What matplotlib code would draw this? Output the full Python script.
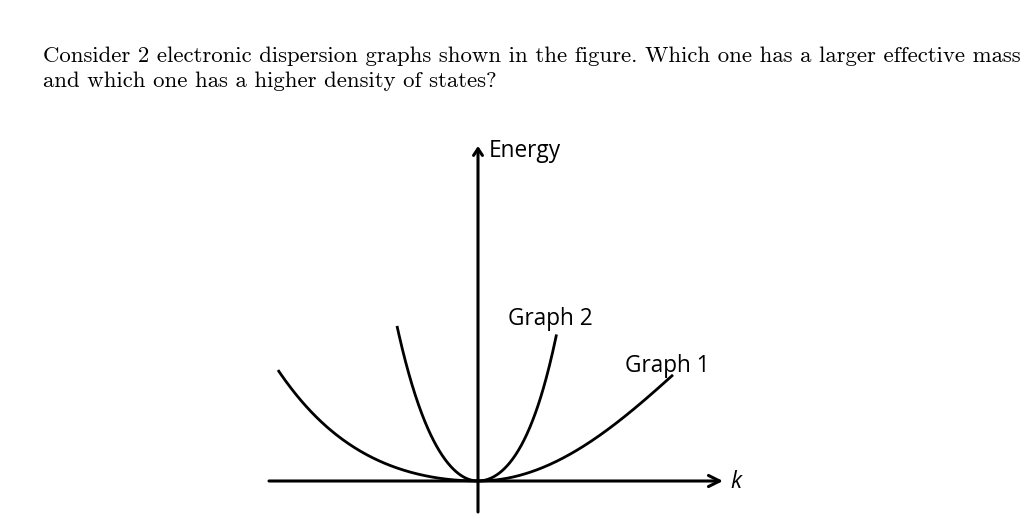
import numpy as np
import matplotlib.pyplot as plt

# question text
question = ["Consider 2 electronic dispersion graphs shown in the figure. Which one has a larger effective mass",
            "and which one has a higher density of states?"]

# bands drawn as E = a*k^2 + b*k^4, coefficients read per branch (left, right)
# and the k value where each branch ends (arbitrary units, 1 unit = 100 px)
names = ["Graph 1", "Graph 2"]
coef_a = {"Graph 1": (0.183, 0.327), "Graph 2": (1.915, 1.70)}
coef_b = {"Graph 1": (0.0236, -0.0126), "Graph 2": (0.683, 1.10)}
k_end = {"Graph 1": (-2.0, 1.95), "Graph 2": (-0.81, 0.785)}
label_pos = {"Graph 1": (1.47, 1.09), "Graph 2": (0.30, 1.56)}

# axis extents
k_axis = (-2.09, 2.45)
e_axis = (-0.31, 3.35)

fig = plt.figure(figsize=(10.24, 5.32), dpi=100)
ax = fig.add_axes([0, 0, 1, 1])
ax.set_xlim(-4.78, 5.46)
ax.set_ylim(-0.51, 4.81)
ax.axis("off")

# axes with arrows
ax.annotate("", xy=(k_axis[1], 0), xytext=(k_axis[0], 0),
            arrowprops=dict(arrowstyle="->,head_length=0.4,head_width=0.2", lw=2.2,
                            color="black", mutation_scale=20, shrinkA=0, shrinkB=0))
ax.annotate("", xy=(0, e_axis[1]), xytext=(0, e_axis[0]),
            arrowprops=dict(arrowstyle="->,head_length=0.3,head_width=0.2", lw=2.2,
                            color="black", mutation_scale=16, shrinkA=0, shrinkB=0))

lab_font = ["Open Sans", "DejaVu Sans"]
ax.text(0.11, 3.24, "Energy", fontsize=16.3, family=lab_font, va="baseline", ha="left")
ax.text(2.52, -0.07, "k", fontsize=16.3, family=lab_font, style="italic", va="baseline", ha="left")

for name in names:
    for side in (0, 1):
        k = np.linspace(0, k_end[name][side], 200)
        e = coef_a[name][side] * k ** 2 + coef_b[name][side] * k ** 4
        ax.plot(k, e, color="black", lw=2.0, solid_capstyle="butt")
    x, y = label_pos[name]
    ax.text(x, y, name, fontsize=16.3, family=lab_font, va="baseline", ha="left")

fig.text(43 / 1024, 1 - 62.5 / 532, question[0], family="cmr10", fontsize=16.4, va="baseline")
fig.text(43 / 1024, 1 - 87 / 532, question[1], family="cmr10", fontsize=16.4, va="baseline")

fig.savefig("out.png", dpi=100)
